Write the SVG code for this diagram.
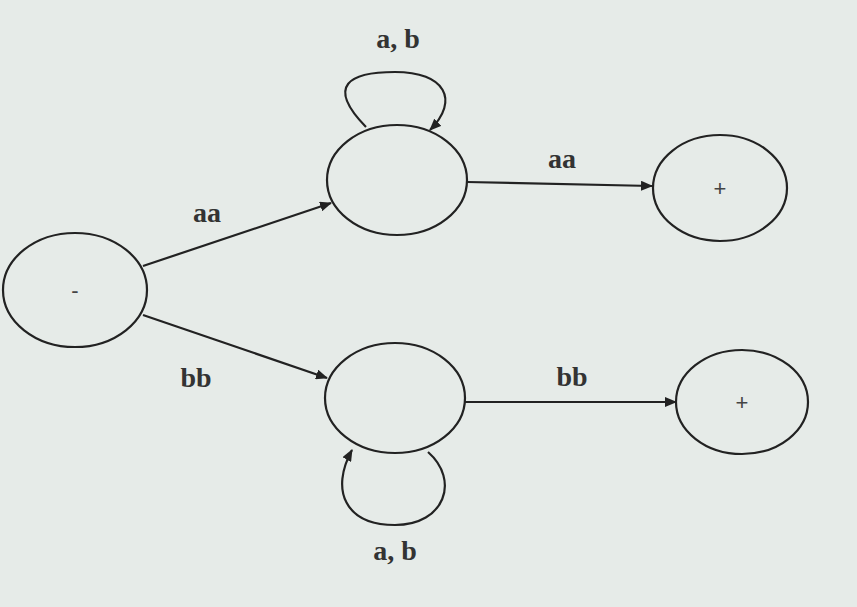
<svg xmlns="http://www.w3.org/2000/svg" width="857" height="607" viewBox="0 0 857 607">
<defs>
<marker id="ah" markerWidth="12" markerHeight="10" refX="11" refY="5" orient="auto" markerUnits="userSpaceOnUse">
<path d="M0,0 L12,5 L0,10 z" fill="#222"/>
</marker>
<style>
.n{fill:none;stroke:#222;stroke-width:2.2}
.e{fill:none;stroke:#222;stroke-width:2.2;marker-end:url(#ah)}
.t{font-family:"Liberation Serif",serif;font-size:28px;font-weight:bold;fill:#333;text-anchor:middle}
.s{font-family:"Liberation Sans",sans-serif;font-size:22px;fill:#444;text-anchor:middle}
</style>
</defs>
<rect width="857" height="607" fill="#e6ebe8"/>
<g id="start"><ellipse class="n" cx="75" cy="290" rx="72" ry="57"/><text class="s" x="75" y="298">-</text></g>
<g id="top"><ellipse class="n" cx="397" cy="180" rx="70" ry="55"/></g>
<g id="topfinal"><ellipse class="n" cx="720" cy="188" rx="67" ry="53"/><text class="s" x="720" y="196">+</text></g>
<g id="bottom"><ellipse class="n" cx="395" cy="398" rx="70" ry="55"/></g>
<g id="bottomfinal"><ellipse class="n" cx="742" cy="402" rx="66" ry="52"/><text class="s" x="742" y="410">+</text></g>
<g id="connectors">
<path class="e" d="M143,266 L331,203"/>
<path class="e" d="M143,315 L327,378"/>
<path class="e" d="M467,182 L652,186"/>
<path class="e" d="M465,402 L676,402"/>
<path class="e" d="M366,127 C325,85 350,72 395,72 C445,72 460,100 430,130"/>
<path class="e" d="M428,452 C460,480 445,525 395,525 C345,525 330,490 352,450"/>
</g>
<g id="labels">
<text class="t" x="207" y="222">aa</text>
<text class="t" x="196" y="387">bb</text>
<text class="t" x="562" y="168">aa</text>
<text class="t" x="572" y="386">bb</text>
<text class="t" x="398" y="48">a, b</text>
<text class="t" x="395" y="560">a, b</text>
</g>
</svg>
